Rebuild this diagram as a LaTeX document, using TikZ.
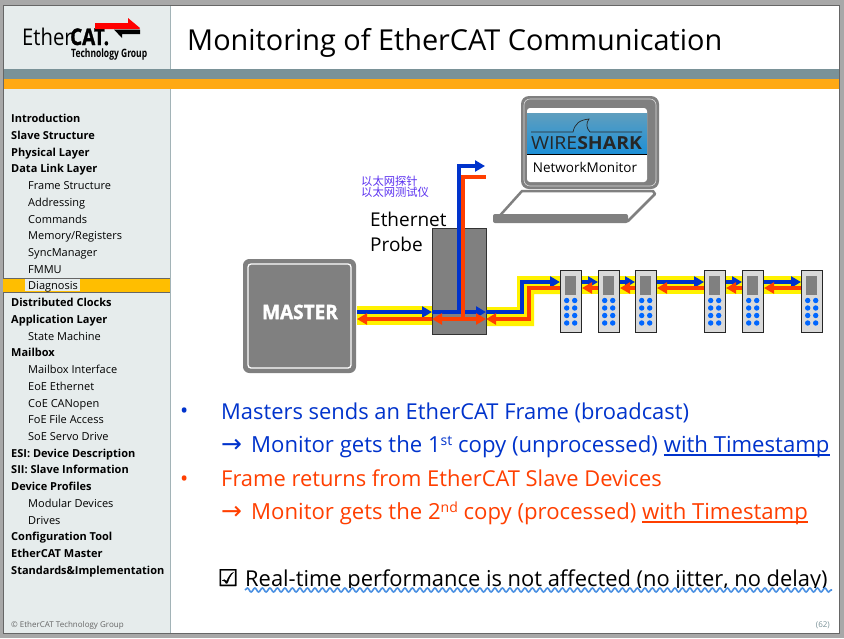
\documentclass[tikz,border=0pt]{standalone}
\usepackage{fontspec}
\setmainfont{Open Sans}
\newfontfamily\cjk{Noto Sans CJK SC}
\newfontfamily\djv{DejaVu Sans}
\newfontfamily\djvb[FakeBold=1.6]{DejaVu Sans}
\newfontfamily\heavy[UprightFont=* Bold,FakeBold=1.5]{Open Sans}
\usetikzlibrary{arrows.meta,decorations.pathmorphing}
\definecolor{sidebg}{HTML}{E6ECEC}
\definecolor{steel}{HTML}{7A9298}
\definecolor{amber}{HTML}{FFA914}
\definecolor{gold}{HTML}{FFBE00}
\definecolor{frameg}{HTML}{A8A8A8}
\definecolor{boxg}{HTML}{808080}
\definecolor{blueL}{HTML}{0033CC}
\definecolor{redL}{HTML}{FF3F00}
\definecolor{dotb}{HTML}{0066FF}
\definecolor{cjkc}{HTML}{5A30F0}
\definecolor{wstop}{HTML}{5F9EBE}
\definecolor{wsmid}{HTML}{2F86B8}
\definecolor{wsbot}{HTML}{1C90D8}
\definecolor{wave}{HTML}{4A90E2}
\newcommand\ulx[1]{\setbox0\hbox{#1}\rlap{\rule[-3.5pt]{\wd0}{1.1pt}}\box0}
\newcommand\arw{\makebox[30pt][l]{\djv\fontsize{25}{25}\selectfont→}}
\tikzset{
  x=1pt,y=-1pt,
  major/.style={anchor=base west,inner sep=0pt,font=\bfseries\fontsize{11}{11}\selectfont},
  minor/.style={anchor=base west,inner sep=0pt,font=\fontsize{11}{11}\selectfont},
  yband/.style={fill=yellow,draw=none},
  bluew/.style={draw=blueL,line width=3.3pt},
  redw/.style={draw=redL,line width=3.3pt},
  bluea/.style={bluew,-{Triangle[length=10pt,width=11pt]}},
  reda/.style={redw,-{Triangle[length=10pt,width=11pt]}},
  slavebox/.style={fill=black!15,draw=black!85,line width=1pt,minimum width=21pt,minimum height=62pt,inner sep=0pt,anchor=north west},
  bul/.style={anchor=base west,inner sep=0pt,font=\fontsize{21.9}{22}\selectfont},
  bulb/.style={anchor=base west,inner sep=0pt,font=\fontsize{22.15}{22}\selectfont},
}
\begin{document}
\begin{tikzpicture}
\useasboundingbox (0,0) rectangle (844,638);
\fill[frameg] (0,0) rectangle (844,638);
\fill[white] (3,5) rectangle (839,633);
\fill[sidebg] (3,5) rectangle (170,633);
\draw[steel!70,line width=1pt] (170.5,5) -- (170.5,633);
\fill[steel] (3,69) rectangle (839,79);
\fill[amber] (3,79) rectangle (839,89);
\draw[black!60,line width=.8pt] (3,5) rectangle (839,633);
% logo
\node[anchor=base west,inner sep=0pt] (lg1) at (22,45) {\scalebox{.88}[1]{\fontsize{23}{23}\selectfont Ether}};
\node[anchor=base west,inner sep=0pt] (lg2) at (70,45) {\scalebox{.82}[1]{\heavy\fontsize{23}{23}\selectfont CAT.}};
\node[anchor=base west,inner sep=0pt] (lg3) at (71,57) {\scalebox{.74}[1]{\bfseries\fontsize{11.5}{11.5}\selectfont Technology Group}};
\fill[red] (95,23) -- (128,23) -- (128,18) -- (140,28) -- (139,29) -- (95,29) -- cycle;
\fill[black] (114,29.5) -- (140,29.5) -- (140,34) -- (122,34) -- (122,38) -- cycle;
% title
\node[anchor=base west,inner sep=0pt,font=\fontsize{28.85}{30}\selectfont] (title) at (187,50) {Monitoring of EtherCAT Communication};
% sidebar
\fill[gold] (3,278) rectangle (170,292);
\draw[black!60,line width=1pt] (3,278) -- (170,278) (3,292) -- (170,292);
\fill[sidebg] (25,279) rectangle (80,291);
\foreach \t/\y in {Introduction/122,Slave Structure/139,Physical Layer/156,Data Link Layer/172,Distributed Clocks/306,Application Layer/323,Mailbox/356,ESI: Device Description/457,SII: Slave Information/473,Device Profiles/490,Configuration Tool/540,EtherCAT Master/557,Standards\&Implementation/574}
  \node[major] at (11,\y) {\t};
\foreach \t/\y in {Frame Structure/189,Addressing/206,Commands/223,{Memory/Registers}/239,SyncManager/256,FMMU/273,Diagnosis/289,State Machine/340,Mailbox Interface/373,EoE Ethernet/390,CoE CANopen/407,FoE File Access/423,SoE Servo Drive/440,Modular Devices/507,Drives/524}
  \node[minor] at (28,\y) {\t};
\node[anchor=base west,inner sep=0pt,text=black!60,font=\fontsize{8}{8}\selectfont] (copy) at (11,627) {© EtherCAT Technology Group};
\node[anchor=base east,inner sep=0pt,text=steel,font=\fontsize{8}{8}\selectfont] (pg) at (830,627) {(62)};
% yellow bands
\fill[yband] (357,306) rectangle (432,325);
\fill[yband] (486,307) -- (517,307) -- (517,276) -- (560,276) -- (560,294) -- (534,294) -- (534,326) -- (486,326) -- cycle;
\fill[yband] (582,276) rectangle (598,294);
\fill[yband] (619,276) rectangle (635,294);
\fill[yband] (657,276) rectangle (704,294);
\fill[yband] (726,276) rectangle (742,294);
\fill[yband] (764,276) rectangle (801,294);
% master
\node[fill=boxg,draw=boxg,line width=1pt,rounded corners=6pt,minimum width=112pt,minimum height=113pt,inner sep=0pt] (master) at (299.5,316) {};
\draw[white,line width=1.3pt,rounded corners=3pt] (248,264) rectangle (351,368);
\node[text=white,inner sep=0pt] (mlabel) at (300,312) {\scalebox{.95}[1]{\heavy\fontsize{20}{20}\selectfont MASTER}};
% probe
\node[fill=boxg,draw=black!80,line width=.8pt,minimum width=54pt,minimum height=106pt,inner sep=0pt] (probe) at (459,281) {};
\node[anchor=base west,inner sep=0pt,font=\fontsize{19}{19}\selectfont] (pr1) at (370,226) {Ethernet};
\node[anchor=base west,inner sep=0pt,font=\fontsize{19}{19}\selectfont] (pr2) at (370,251) {Probe};
\node[anchor=base west,inner sep=0pt,text=cjkc,font=\cjk\fontsize{11.3}{11.3}\selectfont] (c1) at (361,185) {以太网探针};
\node[anchor=base west,inner sep=0pt,text=cjkc,font=\cjk\fontsize{11.3}{11.3}\selectfont] (c2) at (361,196) {以太网测试仪};
% slaves
\foreach \n/\x in {s1/560,s2/598,s3/635,s4/704,s5/742,s6/801}{
  \node[slavebox] (\n) at (\x,269.5) {};
  \fill[boxg] (\x+5,276) rectangle (\x+16,295);
  \foreach \dx in {6.7,14.7} \foreach \dy in {300.5,308,315.5,323}
    \fill[dotb] (\x+\dx,\dy) circle (2.7pt);
}
% connectors
\coordinate (mb) at (357,312); \coordinate (mr) at (357,319);
\coordinate (pbl) at (432,312); \coordinate (prl) at (432,319);
\coordinate (pbr) at (486,312); \coordinate (prr) at (486,319);
\coordinate (pm) at (459,312); \coordinate (pn) at (463,319);
\coordinate (tb) at (485,166); \coordinate (tr) at (486,177);
\draw[bluea] (mb) -- (pbl);
\draw[reda] (prl) -- (mr);
\draw[bluea] (pbl) -- (pbr);
\draw[reda] (pn) -- (prl);
\draw[reda] (pn) -- (prr);
\draw[bluea] (pm) -- (459,166) -- (tb);
\draw[redw] (pn) -- (463,177) -- (tr);
\draw[bluea] (pbr) -- (522,312) -- (522,282) -- (s1.west|-0,282);
\draw[reda] (s1.west|-0,288) -- (529,288) -- (529,319) -- (prr);
\foreach \a/\b in {s1/s2,s2/s3,s3/s4,s4/s5,s5/s6}{
  \draw[bluea] (\a.east|-0,282) -- (\b.west|-0,282);
  \draw[reda] (\b.west|-0,288) -- (\a.east|-0,288);
}
% laptop
\fill[boxg,rounded corners=8pt] (521,96) rectangle (659,189);
\draw[white!70!boxg,line width=.6pt,rounded corners=6pt] (524,99) rectangle (656,186);
\fill[white,rounded corners=3pt] (527,108) rectangle (647,182);
\shade[top color=wstop,middle color=wsmid,bottom color=wsbot] (527,113) rectangle (647,154);
\draw[black,line width=.8pt] (527,154.5) -- (647,154.5);
\draw[black!85,line width=.7pt] (531,132) -- (573,132) .. controls (575,123) and (580,120) .. (589,119) .. controls (586,123) and (586,128) .. (590,132) -- (642,132);
\node[anchor=base,inner sep=0pt,text=black!85] (ws) at (586.5,149) {\scalebox{1.08}[1]{\fontsize{18}{18}\selectfont WIRE\textbf{SHARK}}};
\node[inner sep=0pt,font=\fontsize{13.5}{13.5}\selectfont] (nm) at (585,167) {NetworkMonitor};
\draw[boxg,line width=2.5pt,line join=round] (522,191) -- (653,191) -- (655,194) -- (628,221) -- (495,221) -- cycle;
\fill[boxg,rounded corners=2pt] (493,214) rectangle (628,223);
% bullets
\node[bul,text=blueL] (b1) at (180,418) {•};
\node[bul,text=blueL] (t1) at (221,419) {Masters sends an EtherCAT Frame (broadcast)};
\node[bulb,text=blueL] (t2) at (221,452) {\arw Monitor gets the 1\raisebox{7pt}{\fontsize{14}{14}\selectfont st} copy (unprocessed) \ulx{with Timestamp}};
\node[bul,text=redL] (b2) at (180,486) {•};
\node[bul,text=redL] (t3) at (221,486) {Frame returns from EtherCAT Slave Devices};
\node[bulb,text=redL] (t4) at (221,519) {\arw Monitor gets the 2\raisebox{7pt}{\fontsize{14}{14}\selectfont nd} copy (processed) \ulx{with Timestamp}};
\node[anchor=base west,inner sep=0pt,font=\djvb\fontsize{23}{23}\selectfont] (chk) at (217.5,586) {☑};
\node[bul] (t5) at (245,586) {Real-time performance is not affected (no jitter, no delay)};
\fill[white] (244,587.5) rectangle (838,597);
\draw[wave,line width=1.6pt,decorate,decoration={snake,segment length=7.5pt,amplitude=2pt}] (245,590) -- (832,590);
\end{tikzpicture}
\end{document}
